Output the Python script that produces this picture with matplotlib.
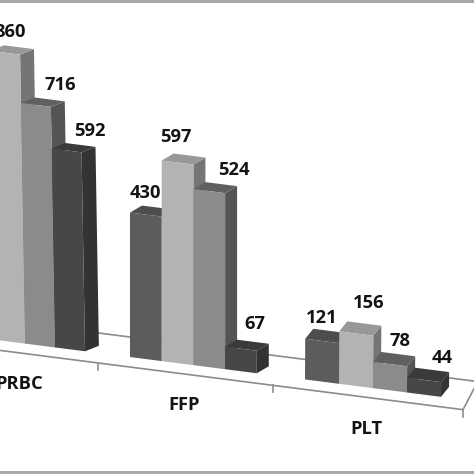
import matplotlib
matplotlib.use("Agg")
import matplotlib.pyplot as plt
from matplotlib.patches import Polygon, Rectangle
from matplotlib.transforms import Affine2D

# ---- data ----
categories = ["PRBC", "FFP", "PLT"]
series_1 = [None, 430, 121]   # the PRBC bar of this series lies outside the crop
series_2 = [860, 597, 156]
series_3 = [716, 524, 78]
series_4 = [592, 67, 44]

# ---- layout ----
FIG_PX = 474
PX_PER_VALUE = 0.336
BASE_Y0 = 340.4      # pixel row of the bar baseline at x = 0
SLOPE = 0.128        # baseline drop, px per px
group_x0 = [-35, 130, 305]
group_width = [30, 31.7, 34]
group_tilt = [0.017, 0.0, -0.005]
group_depth = [(14, -5.5), (12, -7), (8, -10)]
label_offset = [   # per group / series: (dx from bar centre, px above front of bar top)
    [(0, 0), (5, 12), (24, 11), (23, 10)],
    [(0, 13), (-2, 17), (25, 12), (14, 16)],
    [(0, 14), (12, 22), (10, 14), (18, 13)],
]
category_xy = [(19, 384), (184, 405), (366, 429)]

face_front = ["#5c5c5c", "#b3b3b3", "#8b8b8b", "#474747"]
face_top = ["#4d4d4d", "#989898", "#606060", "#3a3a3a"]
face_side = ["#434343", "#757575", "#545454", "#333333"]
LINE = "#8c8c8c"
BAND = "#a9a9a9"
FONT = "Open Sans"
FS = 13.2

fig = plt.figure(figsize=(FIG_PX / 100, FIG_PX / 100), dpi=100)
ax = fig.add_axes([0, 0, 1, 1])
ax.set_xlim(0, FIG_PX)
ax.set_ylim(-(FIG_PX - BASE_Y0) / PX_PER_VALUE, BASE_Y0 / PX_PER_VALUE)
ax.axis("off")


def shear(tilt=0.0):
    k = SLOPE / PX_PER_VALUE
    return Affine2D.from_values(1, -k, -tilt * PX_PER_VALUE, 1, 0, 0) + ax.transData


def back(x, v, depth):
    dx, dy = depth
    return x + dx, v + (-dy + SLOPE * dx) / PX_PER_VALUE


def floor_line(x1, x2, off_px, **kw):
    v = -off_px / PX_PER_VALUE
    ax.plot([x1, x2], [v, v], transform=shear(), color=LINE, lw=1.2, zorder=1,
            solid_capstyle="butt", **kw)


# floor: front edge, back edge, ticks and right-hand edge
floor_line(0, 463, 10)
floor_line(85, 474, -20)
for tx in (98, 273, 463):
    v0 = -10 / PX_PER_VALUE
    ax.plot([tx, tx], [v0, v0 - 7 / PX_PER_VALUE], transform=shear(), color=LINE,
            lw=1.2, zorder=1)
ax.plot([463, 474], [-10 / PX_PER_VALUE, back(463, -10 / PX_PER_VALUE, (11, -21))[1]],
        transform=shear(), color=LINE, lw=1.2, zorder=1)

z = 2
all_series = [series_1, series_2, series_3, series_4]
for g, cat in enumerate(categories):
    tr = shear(group_tilt[g])
    depth = group_depth[g]
    w = group_width[g]
    for s, values in enumerate(all_series):
        v = values[g]
        if v is None:
            continue
        x = group_x0[g] + s * w
        xr = x + w
        bx, bv = back(xr, v, depth)
        lx, lv = back(x, v, depth)
        b0x, b0v = back(xr, 0, depth)
        ax.add_patch(Polygon([(xr, 0), (xr, v), (bx, bv), (b0x, b0v)], closed=True,
                             fc=face_side[s], ec="none", transform=tr, zorder=z))
        ax.add_patch(Polygon([(x, v), (xr, v), (bx, bv), (lx, lv)], closed=True,
                             fc=face_top[s], ec="none", transform=tr, zorder=z))
        ax.add_patch(Polygon([(x, 0), (xr, 0), (xr, v), (x, v)], closed=True,
                             fc=face_front[s], ec="none", transform=tr, zorder=z))
        z += 1
        ox, oy = label_offset[g][s]
        ax.annotate(str(v), xy=(x + w / 2, v), xycoords=tr, xytext=(ox * 0.72, oy * 0.72),
                    textcoords="offset points", ha="center", va="bottom",
                    fontsize=FS, fontweight="bold", family=FONT, color="#141414", zorder=50)
    cx, cy = category_xy[g]
    fig.text(cx / FIG_PX + 0, 1 - cy / FIG_PX, cat, ha="center", va="center", fontsize=FS,
             fontweight="bold", family=FONT, color="#141414")

# grey bands along the top and bottom of the image
fig.add_artist(Rectangle((0, 1 - 3 / FIG_PX), 1, 3 / FIG_PX, transform=fig.transFigure,
                         fc=BAND, ec="none"))
fig.add_artist(Rectangle((0, 0), 1, 3 / FIG_PX, transform=fig.transFigure, fc=BAND, ec="none"))

fig.savefig("out.png", dpi=100)
